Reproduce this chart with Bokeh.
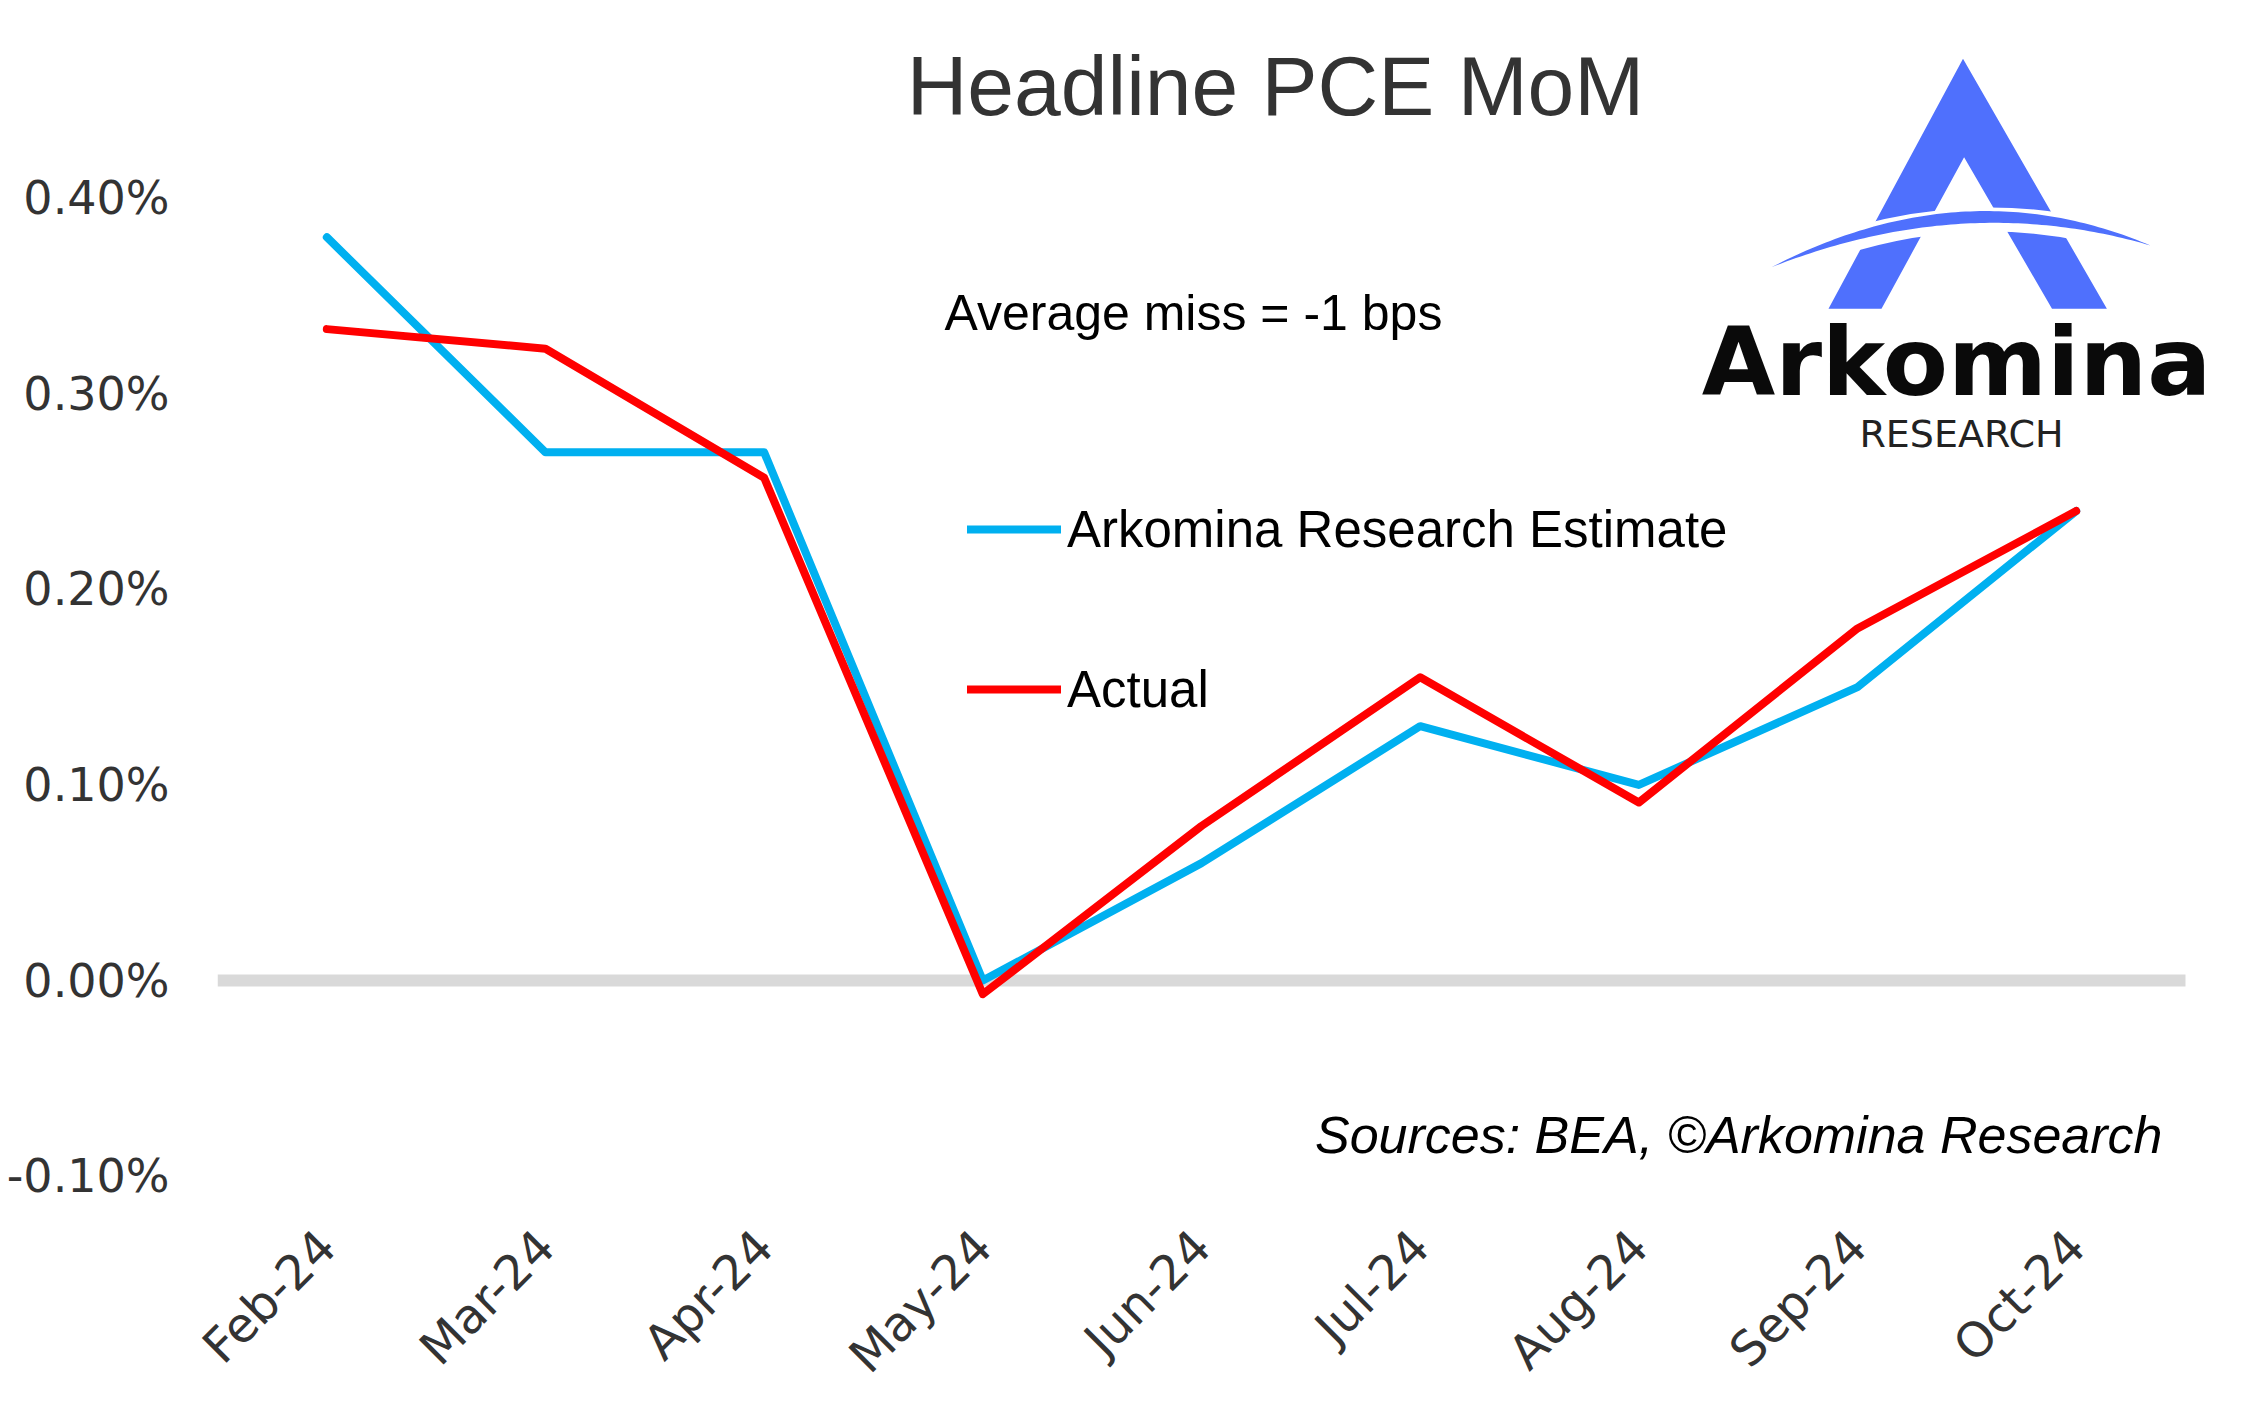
import numpy as np
from math import pi

from bokeh.plotting import figure
from bokeh.models import (Range1d, FixedTicker, PrintfTickFormatter,
                          Label, Legend, LegendItem)
from bokeh.embed import file_html
from bokeh.resources import INLINE

# ---- data (MoM %, headline PCE) ----
months = ["Feb-24", "Mar-24", "Apr-24", "May-24", "Jun-24",
          "Jul-24", "Aug-24", "Sep-24", "Oct-24"]
estimate = [0.38, 0.27, 0.27, 0.00, 0.06, 0.13, 0.10, 0.15, 0.24]
actual = [0.333, 0.323, 0.257, -0.007, 0.079, 0.155, 0.091, 0.180, 0.240]
y_ticks = [-0.10, 0.00, 0.10, 0.20, 0.30, 0.40]

# one slot per month on the x scale
x_pos = list(range(len(months)))

# ---- canvas / frame geometry ----
W, H = 2244, 1413
LEFT, TOP, BOTTOM = 217, 0, 1226
PLOT_RIGHT = 2185                 # right end of the category area
SLOT = (PLOT_RIGHT - LEFT) / len(months)
Y_TOP = 0.501
Y_BOT = Y_TOP - Y_TOP * (BOTTOM - TOP) / 980.0   # zero line sits at canvas y=980
X_LO = -0.5
X_HI = X_LO + (W - LEFT) / SLOT

BLUE = "#00b0f0"
RED = "#ff0000"
LOGO_BLUE = "#4f70fd"
AXIS_GREY = "#333333"


def dx(px):
    """canvas x pixel -> data x"""
    return X_LO + (px - LEFT) / SLOT


def dy(py):
    """canvas y pixel -> data value"""
    return Y_TOP - (py - TOP) / (BOTTOM - TOP) * (Y_TOP - Y_BOT)


def text_y(baseline_px, size_px):
    """data y for a label whose glyph baseline should land on baseline_px"""
    return dy(baseline_px - 0.35 * size_px)


p = figure(width=W, height=H,
           x_range=Range1d(X_LO, X_HI),
           y_range=Range1d(Y_BOT, Y_TOP),
           output_backend="svg", toolbar_location=None,
           min_border_left=LEFT, min_border_right=0,
           min_border_top=TOP, min_border_bottom=H - BOTTOM)
p.outline_line_color = None
p.xgrid.visible = False
p.ygrid.visible = False
p.background_fill_color = "white"
p.border_fill_color = "white"

for ax in (p.xaxis[0], p.yaxis[0]):
    ax.axis_line_color = None
    ax.major_tick_line_color = None
    ax.minor_tick_line_color = None
    ax.major_tick_out = 0
    ax.major_tick_in = 0
    ax.major_label_text_font = "DejaVu Sans"
    ax.major_label_text_color = AXIS_GREY

p.xaxis.ticker = FixedTicker(ticks=x_pos)
p.xaxis.major_label_overrides = {i: m for i, m in zip(x_pos, months)}
p.xaxis.major_label_text_font_size = "48px"
p.xaxis.major_label_orientation = pi / 4
p.xaxis.major_label_standoff = 12
p.yaxis.ticker = FixedTicker(ticks=y_ticks)
p.yaxis.formatter = PrintfTickFormatter(format="%.2f%%")
p.yaxis.major_label_text_font_size = "46px"
p.yaxis.major_label_standoff = 48

# zero line across the category area
p.segment(x0=X_LO, x1=len(months) + X_LO, y0=0, y1=0,
          line_color="#d9d9d9", line_width=12, line_cap="butt")

# series
r_est = p.line(x_pos, estimate, line_color=BLUE, line_width=8,
               line_join="round", line_cap="round")
r_act = p.line(x_pos, actual, line_color=RED, line_width=8,
               line_join="round", line_cap="round")

legend = Legend(items=[LegendItem(label="Arkomina Research Estimate", renderers=[r_est]),
                       LegendItem(label="Actual", renderers=[r_act])],
                location=(750, 507), orientation="vertical",
                glyph_width=94, glyph_height=60, label_height=60,
                spacing=100, padding=0, margin=0, label_standoff=6,
                border_line_color=None, background_fill_alpha=0,
                label_text_font="Liberation Sans", label_text_font_size="51px",
                label_text_color="black")
p.add_layout(legend)

# texts
p.add_layout(Label(x=dx(1275), y=text_y(115, 84), text="Headline PCE MoM",
                   text_align="center", text_baseline="alphabetic",
                   text_font="Liberation Sans", text_font_size="84px",
                   text_color="#333333"))
p.add_layout(Label(x=dx(944), y=text_y(330, 50), text="Average miss = -1 bps",
                   text_align="left", text_baseline="alphabetic",
                   text_font="Liberation Sans", text_font_size="50px",
                   text_color="black"))
p.add_layout(Label(x=dx(2162), y=text_y(1153, 52), text="Sources: BEA, \u00a9Arkomina Research",
                   text_align="right", text_baseline="alphabetic",
                   text_font="Liberation Sans", text_font_style="italic",
                   text_font_size="52px", text_color="black"))

# ---- logo ----
a_shape = [(1828, 308.3), (1962.5, 58.3), (2106.4, 308.3),
           (2051.5, 308.3), (1963.6, 156.7), (1881, 308.3)]
p.patch([dx(x) for x, _ in a_shape], [dy(y) for _, y in a_shape],
        fill_color=LOGO_BLUE, line_color=None)

# white gap around the swoosh
p.quadratic(x0=dx(1771), y0=dy(269.2), x1=dx(2150), y1=dy(247.5),
            cx=dx(1964.5), cy=dy(181), line_color="white", line_width=24)


def bez(p0, c, p2, t):
    return ((1 - t) ** 2 * p0[0] + 2 * t * (1 - t) * c[0] + t ** 2 * p2[0],
            (1 - t) ** 2 * p0[1] + 2 * t * (1 - t) * c[1] + t ** 2 * p2[1])


t = np.linspace(0, 1, 80)
P0, P2 = (1771, 266.7), (2150, 245)
tx, ty = bez(P0, (1964.5, 166.6), P2, t)
bx, by = bez(P2, (1964.5, 190.6), P0, t)
sx = np.concatenate([tx, bx])
sy = np.concatenate([ty, by])
p.patch([dx(v) for v in sx], [dy(v) for v in sy], fill_color=LOGO_BLUE, line_color=None)

p.add_layout(Label(x=dx(1956), y=text_y(395, 95), text="Arkomina", text_align="center",
                   text_baseline="alphabetic", text_font="DejaVu Sans",
                   text_font_style="bold", text_font_size="95px", text_color="#0a0a0a"))
p.add_layout(Label(x=dx(1961), y=text_y(446.7, 38), text="RESEARCH", text_align="center",
                   text_baseline="alphabetic", text_font="DejaVu Sans",
                   text_font_size="38px", text_color="#222222"))

open("out.html", "w").write(file_html(p, INLINE))
